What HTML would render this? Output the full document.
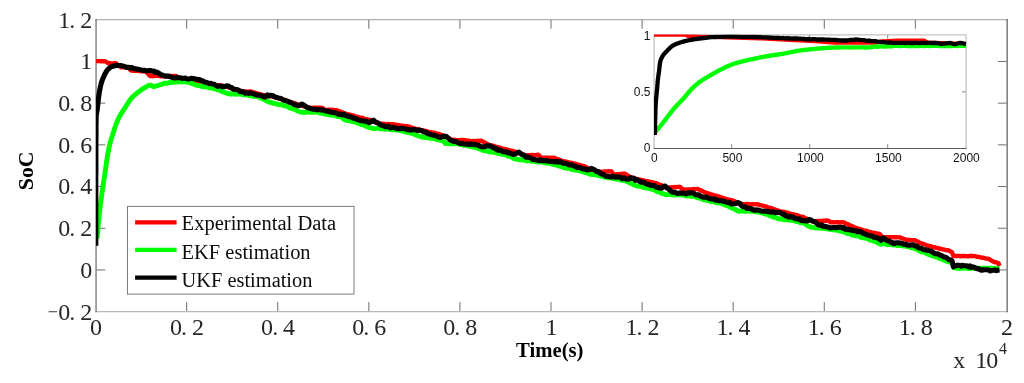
<!DOCTYPE html>
<html lang="en"><head><meta charset="utf-8"><title>SoC estimation</title>
<style>html,body{margin:0;padding:0;background:#fff}svg{display:block}</style></head>
<body>
<svg width="1024" height="383" viewBox="0 0 1024 383">
<rect width="1024" height="383" fill="#fff"/>
<defs><clipPath id="cm"><rect x="96" y="19.6" width="911.0" height="291.9"/></clipPath><clipPath id="ci"><rect x="654" y="34.6" width="312.4" height="113.4"/></clipPath></defs>
<g fill="none">
<path d="M95.5,19.6 H1007.7" stroke="#b0b0b0" stroke-width="1.2"/>
<path d="M95.5,311.65 H1007.7" stroke="#bababa" stroke-width="1.3"/>
<path d="M96.05,19 V312.3" stroke="#5a5a5a" stroke-width="1.1"/>
<path d="M1007.15,19 V312.3" stroke="#5a5a5a" stroke-width="1.2"/>
<path d="M186.65,311 V302.1 M186.65,20 V28.7" stroke="#6c6c6c" stroke-width="1"/>
<path d="M277.74,311 V302.1 M277.74,20 V28.7" stroke="#6c6c6c" stroke-width="1"/>
<path d="M368.83,311 V302.1 M368.83,20 V28.7" stroke="#6c6c6c" stroke-width="1"/>
<path d="M459.92,311 V302.1 M459.92,20 V28.7" stroke="#6c6c6c" stroke-width="1"/>
<path d="M551.01,311 V302.1 M551.01,20 V28.7" stroke="#6c6c6c" stroke-width="1"/>
<path d="M642.10,311 V302.1 M642.10,20 V28.7" stroke="#6c6c6c" stroke-width="1"/>
<path d="M733.19,311 V302.1 M733.19,20 V28.7" stroke="#6c6c6c" stroke-width="1"/>
<path d="M824.28,311 V302.1 M824.28,20 V28.7" stroke="#6c6c6c" stroke-width="1"/>
<path d="M915.37,311 V302.1 M915.37,20 V28.7" stroke="#6c6c6c" stroke-width="1"/>
<path d="M96.5,269.95 H105.3 M1006.6,269.95 H997.8" stroke="#707070" stroke-width="1"/>
<path d="M96.5,228.25 H105.3 M1006.6,228.25 H997.8" stroke="#707070" stroke-width="1"/>
<path d="M96.5,186.55 H105.3 M1006.6,186.55 H997.8" stroke="#707070" stroke-width="1"/>
<path d="M96.5,144.85 H105.3 M1006.6,144.85 H997.8" stroke="#707070" stroke-width="1"/>
<path d="M96.5,103.15 H105.3 M1006.6,103.15 H997.8" stroke="#707070" stroke-width="1"/>
<path d="M96.5,61.45 H105.3 M1006.6,61.45 H997.8" stroke="#707070" stroke-width="1"/>
</g>
<g clip-path="url(#cm)" fill="none" stroke-linejoin="round" stroke-linecap="butt">
<path d="M96.0,61.1 L97.8,61.1 L99.5,61.1 L101.3,61.2 L103.0,61.2 L104.8,61.1 L106.7,62.1 L108.5,63.3 L110.0,63.3 L111.5,63.5 L113.0,63.5 L114.5,63.2 L116.0,63.3 L117.7,64.5 L119.3,65.8 L121.0,67.3 L122.5,67.3 L124.0,67.2 L125.6,67.5 L127.1,67.6 L128.6,67.6 L131.0,70.5 L132.5,70.5 L134.0,70.8 L135.5,70.8 L137.0,70.7 L138.5,71.0 L140.0,71.0 L141.5,71.2 L143.0,71.2 L144.5,71.5 L146.0,71.5 L148.0,73.7 L150.0,76.0 L151.5,75.9 L153.1,76.0 L154.6,76.1 L156.1,75.9 L157.6,75.9 L159.2,76.0 L160.7,76.2 L162.2,76.2 L163.8,76.1 L165.3,76.2 L166.8,76.1 L168.4,76.0 L169.9,75.8 L171.4,76.1 L172.9,76.0 L174.5,75.9 L176.0,76.0 L178.0,77.6 L180.0,79.5 L181.5,79.5 L183.0,79.6 L184.5,79.6 L186.0,79.7 L187.5,79.8 L189.0,80.0 L190.5,80.0 L192.0,80.0 L194.0,81.0 L196.0,82.1 L197.6,81.8 L199.2,81.7 L200.9,81.5 L202.5,81.4 L204.1,81.8 L205.7,82.4 L207.2,82.7 L208.8,83.3 L210.4,83.8 L212.0,84.3 L213.6,84.6 L215.2,84.8 L216.9,85.1 L218.5,85.3 L220.1,85.4 L221.8,85.7 L223.4,85.8 L225.0,86.1 L226.7,86.7 L228.3,87.2 L230.0,87.8 L231.7,88.2 L233.3,88.8 L235.0,89.5 L236.6,90.1 L238.2,90.2 L239.8,90.7 L241.4,91.1 L243.0,91.4 L244.6,91.5 L246.2,91.5 L247.8,91.6 L249.4,91.5 L251.0,91.7 L252.6,92.0 L254.1,92.5 L255.7,92.9 L257.3,93.4 L258.9,93.8 L260.4,94.5 L262.0,94.9 L263.6,95.0 L265.2,95.6 L266.9,95.8 L268.5,96.0 L270.1,96.3 L271.8,96.4 L273.4,96.9 L275.0,97.0 L276.5,97.6 L278.0,98.1 L279.5,98.5 L281.0,99.1 L282.5,99.5 L284.0,100.0 L285.5,100.6 L287.0,101.0 L288.5,101.4 L290.0,101.9 L291.7,102.4 L293.3,102.8 L295.0,103.3 L296.7,104.0 L298.3,104.5 L300.0,104.9 L301.5,105.6 L303.0,106.0 L304.5,106.4 L306.0,106.7 L307.5,107.3 L309.0,107.8 L310.5,108.0 L312.0,107.9 L313.5,107.8 L315.0,107.8 L316.6,107.7 L318.1,107.7 L319.6,107.7 L321.1,108.0 L322.6,107.9 L325.0,109.9 L326.6,110.0 L328.2,109.8 L329.8,110.0 L331.5,109.8 L333.1,109.9 L334.7,110.2 L336.3,110.1 L338.0,110.8 L339.8,111.4 L341.5,112.0 L343.3,112.8 L345.0,113.4 L346.6,114.0 L348.3,114.3 L349.9,114.6 L351.6,115.1 L353.2,115.5 L354.9,116.3 L356.5,116.6 L358.2,117.0 L359.9,117.6 L361.6,117.7 L363.2,118.2 L364.9,118.8 L366.6,119.1 L368.3,119.7 L370.0,120.0 L371.6,120.4 L373.3,121.2 L375.0,121.5 L377.1,122.4 L379.1,123.5 L380.6,123.7 L382.1,123.6 L383.6,123.9 L385.1,124.0 L386.6,124.1 L388.1,124.0 L389.6,124.3 L391.1,124.2 L392.6,124.3 L394.1,124.5 L395.6,124.7 L397.1,125.1 L398.6,125.0 L400.1,125.5 L401.6,125.7 L403.2,125.9 L404.7,125.9 L406.2,126.1 L407.7,126.3 L409.2,126.6 L410.9,127.3 L412.6,127.9 L414.3,128.4 L416.0,128.9 L417.6,129.2 L419.2,129.5 L420.8,130.1 L422.3,130.4 L423.9,130.5 L425.5,131.0 L427.0,131.2 L428.6,131.8 L430.1,132.2 L431.6,132.3 L433.2,132.6 L434.7,133.0 L436.2,133.4 L437.8,133.6 L439.3,134.1 L441.0,134.8 L442.6,135.3 L444.3,136.0 L446.0,136.5 L447.9,137.5 L449.9,138.9 L451.8,139.8 L453.4,140.0 L455.1,139.8 L456.8,140.1 L458.4,140.1 L460.1,140.2 L461.7,139.9 L463.4,140.0 L465.0,140.2 L466.8,140.5 L468.5,140.6 L470.2,141.0 L472.0,141.2 L473.8,140.9 L475.5,141.2 L477.3,140.8 L479.0,140.9 L480.8,140.6 L482.6,141.4 L484.4,142.5 L486.2,143.3 L488.0,144.4 L489.5,145.0 L491.0,145.3 L492.6,145.6 L494.1,146.0 L495.6,146.7 L497.1,147.1 L498.7,147.3 L500.3,147.8 L501.9,148.3 L503.5,148.7 L505.1,149.1 L506.6,149.5 L508.2,149.8 L509.8,150.3 L511.4,150.6 L513.0,151.0 L514.6,151.5 L516.2,152.1 L517.8,152.4 L519.4,152.9 L521.0,153.5 L522.9,154.4 L524.7,155.5 L526.2,155.4 L527.7,155.1 L529.3,155.1 L530.8,155.2 L532.3,155.0 L533.8,155.1 L535.4,155.1 L536.9,154.9 L538.4,154.8 L541.0,157.7 L542.5,157.8 L544.0,157.7 L545.6,157.6 L547.1,157.8 L548.6,157.8 L550.1,157.9 L551.7,157.7 L553.2,157.8 L554.7,157.9 L556.5,158.8 L558.4,159.3 L560.2,160.1 L562.0,160.9 L563.7,161.4 L565.4,161.5 L567.1,161.8 L568.9,162.4 L570.6,162.7 L572.3,163.0 L573.9,163.5 L575.4,163.7 L577.0,164.3 L578.5,164.6 L580.1,165.1 L581.7,165.7 L583.2,165.9 L584.8,166.5 L586.5,167.3 L588.3,168.4 L590.0,169.0 L591.5,170.0 L593.0,170.6 L594.8,170.9 L596.5,171.3 L598.2,171.6 L600.0,171.9 L601.6,171.8 L603.2,171.8 L604.8,171.5 L606.5,171.6 L608.1,171.2 L609.7,171.4 L611.3,171.2 L613.5,174.4 L615.1,174.4 L616.8,174.2 L618.4,174.2 L620.1,174.0 L621.7,174.0 L623.4,173.6 L625.0,173.7 L626.7,174.8 L628.3,176.0 L630.0,176.9 L631.5,177.5 L633.0,177.7 L634.6,178.2 L636.1,178.9 L637.6,179.2 L639.2,179.5 L640.7,179.7 L642.3,180.3 L643.9,180.5 L645.4,181.0 L647.0,181.2 L648.6,181.5 L650.1,181.8 L651.7,182.1 L653.3,182.7 L654.8,182.9 L656.4,183.2 L657.9,184.0 L659.4,184.6 L661.0,185.0 L662.5,185.9 L664.0,186.4 L665.9,187.1 L667.7,187.6 L669.3,187.5 L670.8,187.5 L672.4,187.2 L674.0,187.4 L675.5,187.0 L677.1,187.1 L678.6,186.8 L680.2,186.9 L682.5,189.7 L684.0,189.5 L685.6,189.6 L687.1,189.5 L688.6,189.5 L690.1,189.5 L691.7,189.5 L693.2,189.0 L694.7,189.2 L696.3,189.1 L697.8,189.0 L699.6,189.9 L701.3,190.6 L703.1,191.4 L704.8,192.3 L706.6,193.0 L708.1,193.4 L709.7,193.9 L711.2,194.5 L712.7,194.7 L714.2,195.3 L715.8,195.6 L717.3,196.1 L718.8,196.5 L720.4,197.1 L721.9,197.5 L723.4,198.1 L724.9,198.6 L726.5,199.2 L728.0,199.5 L729.5,199.8 L731.0,200.3 L732.5,200.4 L734.0,200.8 L735.6,201.7 L737.2,202.5 L738.9,203.3 L740.5,204.1 L742.1,204.0 L743.8,204.3 L745.4,204.3 L747.0,204.0 L748.6,204.2 L750.3,204.4 L751.9,204.1 L753.5,204.2 L755.2,204.4 L756.8,204.3 L758.6,204.5 L760.3,205.2 L762.1,205.5 L763.8,206.0 L765.6,206.3 L767.2,206.9 L768.7,207.6 L770.3,207.9 L771.9,208.5 L773.4,208.8 L775.0,209.5 L776.5,210.0 L778.1,210.6 L779.7,211.2 L781.2,211.6 L782.8,211.6 L784.4,212.0 L786.0,212.4 L787.6,212.8 L789.1,213.4 L790.7,213.7 L792.3,214.1 L793.8,214.5 L795.4,214.9 L797.0,215.1 L798.5,215.7 L800.1,216.3 L801.6,216.6 L803.2,216.9 L805.1,217.9 L807.1,218.8 L809.0,219.9 L811.1,220.8 L813.2,221.3 L814.7,221.2 L816.2,221.2 L817.7,221.0 L819.2,221.0 L820.8,220.9 L822.3,220.8 L823.8,220.6 L825.3,220.8 L826.8,220.5 L828.3,220.6 L830.5,222.2 L832.1,222.3 L833.7,222.3 L835.3,222.4 L836.9,222.2 L838.5,222.2 L840.1,222.5 L841.7,222.3 L843.3,222.4 L844.9,222.9 L846.5,223.9 L848.1,224.2 L849.6,225.3 L851.2,225.7 L852.8,226.4 L854.4,227.3 L856.0,227.8 L857.6,228.2 L859.1,228.8 L860.7,229.2 L862.2,229.9 L863.8,230.3 L865.4,230.6 L866.9,231.0 L868.5,231.6 L870.1,231.9 L871.7,232.3 L873.3,232.6 L875.0,233.0 L876.6,233.3 L878.2,233.7 L879.8,234.1 L882.3,237.2 L883.9,237.2 L885.5,237.3 L887.1,237.3 L888.7,237.3 L890.3,237.2 L891.9,237.2 L893.5,237.3 L895.1,237.1 L896.7,237.3 L898.3,237.4 L899.9,237.2 L901.5,238.0 L903.0,238.5 L904.5,239.0 L906.1,239.7 L907.9,239.9 L909.6,240.0 L911.4,240.1 L913.1,240.1 L914.9,240.3 L916.6,241.1 L918.3,241.8 L920.0,242.8 L921.6,243.3 L923.1,243.8 L924.7,244.5 L926.3,245.2 L927.8,245.4 L929.4,246.1 L931.0,246.3 L932.5,247.0 L934.1,247.2 L935.7,247.7 L937.2,247.9 L938.8,248.5 L940.4,248.7 L941.9,249.2 L943.5,249.4 L945.1,249.8 L946.6,250.2 L948.2,250.3 L950.1,251.2 L952.0,252.2 L953.4,256.0 L954.9,256.0 L956.4,256.0 L957.9,256.0 L959.4,256.0 L960.9,256.2 L962.4,256.0 L964.0,255.9 L965.5,256.1 L967.0,256.2 L968.5,256.2 L970.0,256.0 L971.5,255.8 L973.0,256.1 L974.5,256.0 L976.0,256.5 L977.5,256.8 L979.0,257.0 L980.5,257.3 L982.0,257.7 L983.6,257.8 L985.1,258.4 L986.6,258.6 L988.1,258.8 L989.6,259.3 L991.5,260.6 L993.3,261.6 L995.0,262.1 L996.8,262.6 L998.5,263.3 L999.5,266.0" stroke="#ff0000" stroke-width="4.3999999999999995"/>
<path d="M97.1,238.5 L97.2,237.5 L97.3,236.5 L97.3,235.5 L97.4,234.5 L97.5,233.5 L97.6,232.5 L97.7,231.5 L97.8,230.5 L97.9,229.5 L98.0,228.5 L98.1,227.5 L98.1,226.5 L98.2,225.5 L98.3,224.5 L98.4,223.5 L98.5,222.6 L98.6,221.6 L98.7,220.6 L98.8,219.6 L98.9,218.6 L99.0,217.6 L99.1,216.6 L99.2,215.6 L99.3,214.6 L99.4,213.6 L99.5,212.6 L99.7,211.6 L99.8,210.6 L99.9,209.6 L100.0,208.6 L100.1,207.6 L100.2,206.6 L100.3,205.6 L100.4,204.6 L100.5,203.6 L100.6,202.7 L100.8,201.7 L100.9,200.7 L101.0,199.7 L101.2,198.7 L101.3,197.7 L101.5,196.7 L101.6,195.7 L101.8,194.7 L101.9,193.7 L102.0,192.7 L102.2,191.8 L102.3,190.8 L102.5,189.8 L102.6,188.8 L102.8,187.8 L102.9,186.8 L103.0,185.8 L103.2,184.8 L103.3,183.8 L103.5,182.8 L103.6,181.9 L103.8,180.9 L103.9,179.9 L104.1,178.9 L104.2,177.9 L104.4,176.9 L104.5,175.9 L104.7,174.9 L104.8,173.9 L105.0,172.9 L105.1,172.0 L105.3,171.0 L105.4,170.0 L105.6,169.0 L105.7,168.0 L105.9,167.0 L106.0,166.0 L106.2,165.0 L106.3,164.0 L106.4,163.0 L106.6,162.1 L106.7,161.1 L106.9,160.1 L107.0,159.1 L107.2,158.1 L107.3,157.1 L107.5,156.1 L107.7,155.1 L107.8,154.2 L108.0,153.2 L108.2,152.2 L108.4,151.2 L108.5,150.2 L108.7,149.2 L108.9,148.2 L109.1,147.3 L109.3,146.3 L109.6,145.3 L109.8,144.3 L110.0,143.4 L110.3,142.4 L110.5,141.4 L110.8,140.5 L111.1,139.5 L111.4,138.6 L111.7,137.6 L112.0,136.6 L112.3,135.7 L112.6,134.7 L112.9,133.8 L113.2,132.8 L113.5,131.9 L113.8,130.9 L114.1,130.0 L114.4,129.0 L114.7,128.1 L115.1,127.1 L115.4,126.2 L115.7,125.2 L116.1,124.3 L116.4,123.4 L116.8,122.4 L117.2,121.5 L117.6,120.6 L118.0,119.6 L118.4,118.7 L118.8,117.8 L119.2,116.9 L119.7,116.0 L120.2,115.2 L120.7,114.3 L121.2,113.5 L121.8,112.6 L122.3,111.8 L122.9,111.0 L123.4,110.1 L124.0,109.3 L124.5,108.4 L125.1,107.6 L125.6,106.8 L126.1,105.9 L126.7,105.1 L127.2,104.2 L127.8,103.4 L128.3,102.6 L128.9,101.7 L129.4,100.9 L130.0,100.1 L130.6,99.3 L131.2,98.5 L131.9,97.7 L132.6,97.0 L133.3,96.3 L134.0,95.6 L134.8,95.0 L135.5,94.3 L136.3,93.7 L137.1,93.0 L137.9,92.4 L138.7,91.8 L139.5,91.2 L140.3,90.6 L141.1,90.0 L141.9,89.4 L142.7,88.9 L143.5,88.3 L144.4,87.8 L145.2,87.3 L146.1,86.8 L147.0,86.3 L148.9,85.4 L150.9,85.1 L152.5,86.2 L154.1,86.7 L155.7,85.9 L157.2,85.9 L158.8,85.1 L160.8,84.7 L162.7,83.9 L164.3,83.3 L165.8,83.2 L167.4,83.2 L168.9,82.7 L170.5,82.4 L172.1,82.6 L173.7,82.0 L175.2,82.1 L176.8,81.6 L178.4,82.0 L180.0,81.6 L181.8,81.8 L183.7,81.5 L185.3,81.9 L186.8,82.0 L188.4,82.3 L190.0,82.7 L191.6,83.4 L193.2,83.7 L194.7,84.6 L196.3,85.2 L197.9,85.3 L199.4,85.7 L201.0,86.0 L202.6,86.7 L204.1,86.5 L205.7,86.9 L207.2,87.1 L208.8,87.7 L210.6,87.6 L212.4,88.2 L214.2,88.8 L216.0,88.8 L217.6,89.8 L219.1,90.1 L220.7,90.6 L222.2,91.6 L223.8,92.0 L225.4,92.7 L226.9,93.4 L228.5,93.9 L230.1,93.6 L231.6,94.2 L233.2,93.7 L234.8,94.0 L236.3,94.4 L237.9,94.1 L239.4,93.9 L241.0,94.1 L242.6,94.5 L244.2,94.9 L245.8,95.0 L247.4,94.8 L249.0,95.7 L250.6,95.3 L252.2,96.1 L253.8,96.5 L255.4,96.2 L257.0,96.8 L258.6,97.0 L260.3,98.0 L262.0,98.4 L263.6,99.3 L265.3,100.1 L267.0,101.0 L268.7,102.1 L270.3,102.2 L272.0,102.7 L273.6,103.4 L275.2,103.7 L276.9,104.2 L278.5,104.4 L280.1,104.9 L281.7,104.8 L283.4,105.5 L285.0,105.8 L286.6,106.0 L288.2,107.1 L289.9,108.0 L291.5,108.3 L293.1,108.8 L294.7,109.4 L296.3,110.1 L298.0,111.2 L299.6,111.8 L301.2,112.1 L302.7,112.3 L304.2,112.5 L305.7,112.3 L307.2,111.9 L308.8,112.0 L310.3,112.2 L311.8,112.2 L313.3,112.2 L314.8,112.0 L316.3,112.0 L317.9,112.0 L319.4,113.0 L321.0,112.7 L322.6,113.6 L324.1,113.3 L325.7,114.3 L327.2,114.1 L328.8,114.5 L330.4,115.1 L331.9,114.8 L333.5,115.4 L335.1,115.6 L336.7,116.3 L338.2,116.6 L339.8,116.7 L341.4,117.1 L344.0,119.4 L345.6,120.0 L347.1,120.6 L348.7,120.2 L350.2,121.0 L351.8,121.5 L353.4,121.8 L354.9,121.9 L356.5,122.5 L358.0,123.4 L359.5,123.4 L361.0,124.5 L362.5,124.8 L364.1,125.1 L365.6,126.2 L367.1,126.2 L368.6,127.3 L370.1,127.7 L371.6,128.2 L373.3,128.6 L374.9,128.6 L376.6,128.4 L378.3,128.3 L379.9,128.5 L381.6,128.8 L383.1,128.5 L384.6,129.2 L386.1,128.8 L387.6,129.0 L389.1,129.2 L390.7,129.4 L392.2,129.8 L393.7,129.7 L395.2,129.9 L396.7,130.0 L398.3,130.0 L399.8,130.5 L401.4,130.7 L402.9,131.4 L404.5,131.2 L406.1,132.0 L407.6,132.3 L409.2,132.5 L410.9,133.2 L412.5,133.4 L414.2,134.3 L415.9,134.9 L417.5,135.6 L419.2,136.4 L420.8,136.4 L422.4,137.2 L423.9,137.3 L425.5,137.6 L427.1,137.7 L428.6,137.6 L430.2,138.3 L431.8,138.2 L433.4,138.5 L435.0,138.7 L436.6,139.5 L438.2,139.4 L439.8,140.2 L441.4,140.5 L443.0,140.7 L445.5,143.6 L447.1,143.5 L448.7,143.6 L450.3,143.9 L452.0,143.8 L453.6,143.8 L455.2,143.5 L456.8,143.8 L458.3,143.9 L459.8,144.5 L461.4,144.6 L462.9,145.1 L464.4,145.4 L465.9,145.4 L467.4,145.5 L469.0,146.3 L470.5,146.3 L472.0,146.7 L473.5,147.2 L475.0,147.3 L476.5,147.8 L478.0,148.4 L479.5,149.1 L481.0,149.1 L482.5,150.1 L484.0,150.6 L485.5,150.9 L487.0,151.2 L488.6,151.7 L490.3,151.6 L491.9,151.8 L493.5,152.3 L495.1,152.5 L496.8,153.0 L498.4,153.6 L500.0,153.5 L501.7,154.3 L503.3,154.3 L504.8,154.8 L506.4,155.1 L507.9,156.1 L509.4,156.5 L511.0,156.9 L512.5,157.6 L514.0,158.6 L515.6,158.9 L517.1,159.3 L518.7,159.4 L520.3,160.1 L521.9,159.7 L523.6,160.1 L525.2,160.3 L526.8,161.1 L528.4,160.9 L529.9,160.6 L531.5,161.3 L533.0,161.3 L534.5,161.2 L536.1,161.7 L537.6,161.9 L539.1,162.0 L540.7,161.6 L542.2,162.1 L543.8,162.7 L545.4,162.6 L547.0,163.3 L548.7,163.4 L550.3,163.3 L551.9,164.2 L553.5,164.3 L555.1,164.8 L556.6,165.2 L558.2,165.8 L559.8,166.2 L561.3,166.3 L562.9,167.5 L564.4,167.5 L566.0,168.1 L567.6,168.2 L569.1,168.3 L570.7,169.2 L572.3,169.6 L573.9,169.6 L575.5,170.2 L577.0,170.1 L578.6,170.5 L580.2,170.9 L581.7,171.3 L583.3,171.8 L584.9,172.5 L586.4,172.8 L588.0,173.1 L589.5,174.1 L591.1,174.4 L592.9,174.5 L594.7,174.9 L596.4,175.0 L598.2,175.2 L600.0,175.9 L601.6,176.3 L603.1,176.5 L604.7,177.2 L606.2,176.8 L607.8,177.8 L609.4,177.5 L610.9,177.9 L612.5,178.5 L614.1,178.3 L615.6,179.0 L617.2,179.1 L618.8,179.3 L620.4,180.1 L622.0,180.0 L623.5,180.5 L625.1,180.4 L626.8,181.6 L628.4,182.0 L630.1,183.1 L631.8,183.6 L633.4,184.5 L635.1,185.5 L636.6,185.9 L638.1,186.2 L639.6,186.1 L641.1,186.4 L642.6,187.2 L644.1,187.5 L645.6,187.7 L647.1,187.7 L648.6,188.4 L650.1,188.5 L651.6,189.2 L653.1,189.4 L654.6,190.1 L656.1,191.0 L657.7,191.9 L659.2,192.2 L660.7,192.6 L662.2,193.6 L663.7,193.8 L665.2,194.6 L666.7,194.7 L668.2,194.6 L669.7,194.3 L671.2,194.7 L672.7,194.7 L674.2,195.0 L675.7,194.9 L677.2,194.6 L678.7,194.9 L680.2,194.8 L681.7,194.8 L683.2,195.3 L684.7,195.5 L686.2,195.7 L687.8,195.5 L689.3,196.1 L690.8,196.2 L692.3,196.5 L693.8,196.1 L695.3,196.7 L696.9,197.4 L698.5,198.1 L700.1,198.4 L701.8,198.5 L703.4,199.7 L705.0,199.9 L706.6,200.4 L708.2,200.5 L709.7,201.1 L711.3,201.6 L712.9,201.3 L714.4,202.0 L716.0,202.4 L717.5,202.9 L719.1,202.9 L720.9,203.1 L722.7,204.1 L724.4,204.9 L726.2,205.4 L728.0,205.9 L729.7,207.0 L731.3,207.7 L733.0,208.6 L734.7,209.4 L736.3,209.9 L738.0,211.0 L739.5,211.3 L741.0,211.0 L742.5,210.6 L744.0,211.3 L745.5,211.2 L747.1,211.2 L748.6,210.7 L750.1,211.2 L751.6,211.0 L753.1,211.1 L754.7,211.7 L756.2,211.5 L757.8,212.1 L759.4,212.2 L760.9,212.5 L762.5,213.1 L764.0,213.8 L765.6,214.0 L767.2,214.5 L768.7,215.0 L770.3,216.0 L771.9,216.4 L773.4,217.2 L775.0,217.2 L776.5,217.7 L778.1,218.5 L779.7,219.1 L781.2,218.6 L782.8,219.4 L784.4,219.8 L786.0,219.8 L787.6,219.9 L789.1,220.0 L790.7,220.3 L792.3,220.4 L793.8,220.6 L795.4,221.1 L797.0,221.6 L798.5,221.7 L800.1,222.6 L801.6,222.9 L803.2,222.8 L804.7,223.5 L806.2,224.6 L807.7,225.7 L809.2,226.4 L810.7,227.2 L812.3,227.2 L813.9,227.8 L815.4,227.7 L817.0,227.9 L818.6,228.2 L820.1,227.9 L821.7,228.4 L823.3,228.4 L824.8,228.4 L826.3,228.9 L827.8,228.8 L829.3,229.4 L830.8,229.2 L832.3,229.9 L833.8,229.5 L835.3,230.1 L836.8,230.4 L838.3,230.3 L839.9,231.1 L841.5,231.3 L843.1,231.9 L844.7,232.2 L846.3,233.1 L848.0,233.6 L849.6,233.9 L851.2,234.4 L852.8,235.2 L854.4,235.4 L856.0,235.9 L857.6,236.0 L859.1,236.4 L860.7,237.3 L862.2,237.5 L863.8,237.9 L865.4,238.2 L866.9,238.3 L868.5,239.1 L870.1,240.0 L871.6,240.3 L873.2,240.9 L874.8,241.6 L876.4,241.9 L878.0,243.2 L879.5,243.8 L881.1,244.1 L882.8,243.8 L884.4,243.9 L886.1,244.2 L887.8,244.8 L889.4,244.4 L891.1,244.5 L892.6,245.0 L894.1,244.7 L895.6,245.0 L897.1,245.5 L898.6,245.5 L900.1,245.4 L901.6,245.7 L903.1,246.0 L904.6,246.0 L906.1,246.3 L907.8,246.5 L909.5,247.0 L911.2,247.9 L912.8,247.9 L914.5,248.4 L916.2,249.1 L917.9,249.7 L919.5,251.0 L921.2,251.7 L922.9,252.0 L924.5,252.5 L926.2,253.5 L927.8,254.0 L929.4,254.9 L931.0,255.2 L932.7,256.0 L934.3,256.5 L935.9,257.0 L937.5,257.3 L939.3,258.3 L941.0,258.8 L942.8,259.3 L944.5,260.5 L946.3,261.0 L948.2,261.9 L950.1,262.2 L952.0,262.6 L954.0,267.8 L955.5,267.6 L957.0,268.2 L958.5,268.2 L960.0,268.3 L961.5,268.1 L963.0,268.4 L964.5,267.8 L966.0,268.1 L967.5,268.5 L969.0,268.6 L970.5,268.4 L972.0,268.3 L973.5,268.4 L975.0,268.3 L976.5,268.2 L978.1,268.1 L979.6,268.7 L981.1,268.4 L982.7,268.2 L984.2,268.2 L985.7,268.1 L987.2,268.1 L988.8,268.5 L990.3,268.3 L991.8,268.3 L993.4,268.7 L994.9,268.1 L996.4,268.8 L998.0,268.4 L999.5,268.5" stroke="#00ff00" stroke-width="4.8999999999999995"/>
<path d="M95.8,245.8 L95.8,244.8 L95.8,243.8 L95.8,242.8 L95.8,241.8 L95.8,240.8 L95.8,239.8 L95.8,238.8 L95.8,237.8 L95.8,236.8 L95.8,235.8 L95.8,234.8 L95.8,233.8 L95.8,232.8 L95.8,231.8 L95.8,230.8 L95.8,229.8 L95.8,228.8 L95.8,227.8 L95.8,226.8 L95.8,225.8 L95.8,224.7 L95.8,223.7 L95.8,222.7 L95.8,221.7 L95.8,220.7 L95.8,219.7 L95.8,218.7 L95.8,217.7 L95.8,216.7 L95.8,215.7 L95.8,214.7 L95.8,213.7 L95.8,212.7 L95.8,211.7 L95.8,210.7 L95.8,209.7 L95.8,208.7 L95.8,207.7 L95.8,206.7 L95.8,205.7 L95.8,204.7 L95.8,203.7 L95.8,202.7 L95.8,201.7 L95.8,200.7 L95.8,199.7 L95.8,198.7 L95.8,197.7 L95.8,196.7 L95.8,195.7 L95.8,194.7 L95.8,193.7 L95.8,192.7 L95.8,191.7 L95.8,190.7 L95.8,189.7 L95.8,188.7 L95.8,187.7 L95.8,186.7 L95.8,185.7 L95.8,184.7 L95.8,183.7 L95.8,182.6 L95.8,181.6 L95.8,180.6 L95.8,179.6 L95.8,178.6 L95.8,177.6 L95.8,176.6 L95.8,175.6 L95.9,174.6 L95.9,173.6 L95.9,172.6 L95.9,171.6 L95.9,170.6 L95.9,169.6 L95.9,168.6 L95.9,167.6 L95.9,166.6 L95.9,165.6 L95.9,164.6 L95.9,163.6 L95.9,162.6 L95.9,161.6 L95.9,160.6 L95.9,159.6 L95.9,158.6 L95.9,157.6 L95.9,156.6 L95.9,155.6 L95.9,154.6 L95.9,153.6 L95.9,152.6 L95.9,151.6 L95.9,150.6 L95.9,149.6 L95.9,148.6 L95.9,147.6 L95.9,146.6 L95.9,145.6 L95.9,144.6 L95.9,143.6 L95.9,142.6 L95.9,141.6 L96.0,140.5 L96.0,139.5 L96.0,138.5 L96.0,137.5 L96.0,136.5 L96.0,135.5 L96.0,134.5 L96.0,133.5 L96.0,132.5 L96.0,131.5 L96.0,130.5 L96.0,129.5 L96.0,128.5 L96.0,127.5 L96.0,126.5 L96.0,125.5 L96.0,124.5 L96.1,123.5 L96.1,122.5 L96.1,121.5 L96.1,120.5 L96.1,119.5 L96.1,118.5 L96.2,117.5 L96.2,116.5 L96.2,115.5 L96.4,114.5 L96.5,113.5 L96.7,112.5 L96.9,111.5 L97.1,110.5 L97.2,109.6 L97.3,108.6 L97.4,107.6 L97.5,106.6 L97.7,105.6 L97.8,104.6 L97.9,103.6 L98.0,102.6 L98.1,101.6 L98.2,100.6 L98.4,99.6 L98.5,98.6 L98.6,97.6 L98.7,96.6 L98.9,95.6 L99.0,94.6 L99.1,93.6 L99.3,92.6 L99.4,91.6 L99.6,90.7 L99.8,89.7 L100.0,88.7 L100.2,87.7 L100.4,86.7 L100.6,85.7 L100.9,84.8 L101.1,83.8 L101.4,82.8 L101.7,81.9 L102.0,80.9 L102.3,80.0 L102.7,79.0 L103.1,78.1 L103.5,77.2 L103.9,76.3 L104.3,75.4 L104.7,74.5 L105.2,73.6 L105.7,72.7 L106.2,71.8 L106.7,70.9 L107.3,70.2 L108.0,69.4 L108.7,68.7 L109.5,68.0 L110.3,67.4 L111.1,66.9 L112.0,66.6 L113.0,66.3 L114.0,66.0 L115.0,65.8 L116.0,65.6 L117.0,65.5 L118.0,65.5 L119.0,65.5 L120.0,65.5 L121.0,65.5 L122.5,65.9 L124.0,66.2 L125.6,67.0 L127.1,67.4 L128.6,67.3 L130.4,68.0 L132.1,67.5 L133.9,68.7 L135.6,68.8 L137.4,69.3 L139.1,69.3 L140.9,69.9 L142.6,70.4 L144.4,70.3 L146.1,70.8 L147.6,70.7 L149.1,70.5 L150.7,70.5 L152.2,71.2 L153.7,71.0 L155.4,72.5 L157.0,72.0 L158.7,73.3 L160.4,74.3 L162.0,75.0 L163.7,75.6 L165.2,76.2 L166.7,75.9 L168.2,76.2 L169.7,76.5 L171.2,77.1 L172.8,77.7 L174.3,77.9 L175.9,78.0 L177.4,77.4 L179.0,77.7 L180.6,77.7 L182.1,78.4 L183.7,78.3 L185.3,78.0 L186.8,78.8 L188.4,79.0 L190.0,78.7 L191.6,78.3 L193.2,78.5 L194.7,79.0 L196.3,79.0 L197.9,79.7 L199.4,79.5 L201.0,80.5 L202.6,80.8 L204.3,81.9 L205.9,82.2 L207.6,82.9 L209.3,83.6 L210.9,83.2 L212.6,84.0 L214.3,84.3 L216.0,85.5 L217.6,86.4 L219.2,86.0 L220.7,85.9 L222.3,86.8 L223.9,86.8 L225.4,86.4 L226.9,85.8 L228.5,86.0 L230.1,87.4 L231.7,87.6 L233.2,89.2 L234.8,89.3 L236.6,89.6 L238.3,89.9 L240.1,91.7 L241.8,91.4 L243.6,92.3 L245.3,93.2 L246.9,92.8 L248.6,93.4 L250.3,92.8 L251.9,93.3 L253.6,93.9 L255.1,94.4 L256.6,95.1 L258.1,95.1 L259.6,95.5 L261.1,95.2 L263.0,96.5 L264.9,97.1 L267.4,94.8 L268.9,95.9 L270.4,95.2 L271.9,95.5 L273.4,96.0 L274.9,96.8 L276.7,97.6 L278.4,98.0 L280.2,98.2 L281.9,99.0 L283.7,100.2 L285.2,100.4 L286.7,101.0 L288.2,101.4 L289.7,102.3 L291.2,102.7 L292.8,103.6 L294.4,104.6 L295.9,104.7 L297.5,105.6 L299.7,105.4 L301.9,104.0 L303.8,105.1 L305.6,106.4 L307.5,107.7 L309.3,108.0 L311.0,108.8 L312.8,109.2 L314.5,109.1 L316.3,109.6 L318.0,109.6 L319.6,109.5 L321.3,110.0 L323.0,110.0 L324.6,110.6 L326.3,111.1 L328.1,111.0 L329.8,111.9 L331.6,112.4 L333.3,112.4 L335.1,112.7 L337.0,113.5 L338.9,114.4 L340.6,114.1 L342.3,114.9 L344.0,114.2 L345.7,115.6 L347.3,115.7 L349.0,116.7 L350.7,116.7 L352.3,117.7 L354.0,118.2 L355.8,118.5 L357.5,119.8 L359.3,119.9 L361.0,120.8 L362.8,120.7 L364.4,121.3 L366.0,121.1 L367.5,121.9 L369.1,122.6 L371.3,121.5 L373.5,120.1 L375.2,121.9 L376.9,122.7 L378.7,123.4 L380.4,124.8 L382.0,125.4 L383.6,125.8 L385.2,126.7 L386.8,126.6 L388.4,126.1 L390.0,127.9 L391.6,127.6 L393.2,127.3 L394.8,127.7 L396.3,128.7 L397.9,128.4 L399.5,128.6 L401.1,128.4 L402.6,128.5 L404.2,128.8 L405.8,128.8 L407.3,129.8 L408.8,129.6 L410.4,130.1 L412.2,129.6 L413.9,129.7 L415.7,129.6 L417.4,130.7 L419.2,130.1 L420.9,130.4 L422.5,131.0 L424.2,132.2 L425.9,132.3 L427.5,133.6 L429.2,133.8 L430.8,134.6 L432.4,135.0 L434.0,135.3 L435.7,135.7 L437.3,136.3 L438.9,137.2 L440.5,137.4 L442.4,136.4 L444.3,136.4 L446.2,136.4 L448.1,138.1 L449.9,139.6 L451.8,140.7 L453.6,141.4 L455.3,141.5 L457.1,142.1 L458.8,143.1 L460.6,143.6 L462.2,143.3 L463.9,144.0 L465.5,144.1 L467.1,144.1 L468.7,144.0 L470.4,144.4 L472.0,143.9 L473.7,144.5 L475.3,144.6 L477.0,145.0 L478.7,145.3 L480.3,146.5 L482.0,146.8 L483.5,146.9 L485.0,146.5 L486.6,145.6 L488.1,146.1 L489.6,145.6 L491.1,146.8 L492.6,147.1 L494.1,148.2 L495.6,148.4 L497.1,149.9 L498.7,150.4 L500.2,150.0 L501.8,150.8 L503.4,151.8 L504.9,151.9 L506.5,151.9 L508.0,153.0 L509.6,152.8 L511.3,153.5 L512.9,154.4 L514.6,154.3 L516.8,153.2 L519.0,152.1 L520.7,153.6 L522.5,154.8 L524.2,155.2 L525.9,157.1 L527.5,157.0 L529.1,157.4 L530.7,157.9 L532.4,159.4 L534.0,159.4 L535.6,159.9 L537.2,160.0 L538.9,160.7 L540.5,159.8 L542.2,160.8 L543.9,160.6 L545.5,160.5 L547.2,160.8 L548.8,161.3 L550.4,161.5 L551.9,161.3 L553.5,161.6 L555.1,161.9 L556.6,161.4 L558.2,162.1 L559.8,161.8 L561.3,162.1 L562.8,163.1 L564.3,163.2 L565.8,163.5 L567.3,163.7 L568.9,164.9 L570.5,164.8 L572.1,164.9 L573.8,165.9 L575.4,166.2 L577.0,167.6 L578.6,167.5 L580.3,167.5 L582.1,168.7 L583.8,169.1 L585.6,169.0 L587.3,170.0 L589.5,169.5 L591.7,168.4 L593.4,169.4 L595.0,170.1 L596.7,171.8 L598.3,171.5 L600.0,173.0 L601.6,174.0 L603.1,174.4 L604.7,175.5 L606.3,176.3 L607.9,176.2 L609.4,176.8 L611.0,177.1 L612.5,176.1 L614.1,176.8 L615.7,177.2 L617.2,176.7 L618.8,177.1 L620.6,177.3 L622.3,178.6 L624.1,177.8 L625.8,178.9 L627.6,179.2 L629.2,178.7 L630.7,177.6 L632.3,178.5 L633.8,178.4 L635.4,180.3 L637.0,179.7 L638.5,180.4 L640.1,181.7 L641.7,182.3 L643.2,182.1 L644.8,182.9 L646.4,184.0 L648.0,184.2 L649.6,184.7 L651.1,185.6 L652.7,185.5 L654.4,185.5 L656.2,187.3 L657.9,187.4 L659.7,188.0 L661.4,188.3 L663.3,186.5 L665.2,186.1 L666.8,188.0 L668.4,188.8 L669.9,190.2 L671.5,191.7 L673.2,192.2 L674.8,192.1 L676.5,193.2 L678.2,193.4 L679.8,192.9 L681.5,193.4 L683.1,193.0 L684.7,193.2 L686.3,193.9 L688.0,192.9 L689.6,193.1 L691.2,192.6 L692.8,193.0 L694.3,193.6 L695.8,194.9 L697.3,194.7 L698.8,194.8 L700.3,196.1 L701.9,196.7 L703.4,197.3 L705.0,197.0 L706.5,197.1 L708.1,197.8 L709.7,198.8 L711.2,198.8 L712.8,199.2 L714.3,198.9 L715.8,200.2 L717.4,199.9 L718.9,200.6 L720.4,200.8 L721.9,200.8 L723.4,201.4 L725.0,201.6 L726.5,202.3 L728.0,202.6 L729.6,202.4 L731.1,203.9 L732.7,204.0 L734.3,203.8 L736.1,203.5 L738.0,202.6 L739.8,203.4 L741.5,205.6 L743.3,206.7 L745.0,206.7 L746.8,208.4 L748.4,208.3 L749.9,208.4 L751.5,208.8 L753.0,209.8 L754.6,210.3 L756.2,209.9 L757.7,210.0 L759.3,210.3 L760.9,210.9 L762.4,211.3 L764.0,211.0 L765.6,211.2 L767.2,211.4 L768.8,211.6 L770.3,211.9 L771.9,212.2 L773.4,211.7 L774.9,212.8 L776.4,212.2 L777.9,212.5 L779.4,212.2 L780.9,212.9 L782.4,214.1 L783.9,214.1 L785.4,215.7 L786.9,216.0 L788.5,217.1 L790.1,216.4 L791.7,217.2 L793.4,217.1 L795.0,218.6 L796.6,218.7 L798.2,219.1 L799.7,218.8 L801.2,220.4 L802.7,220.8 L804.2,220.3 L805.7,221.0 L807.4,220.9 L809.0,219.5 L810.7,219.7 L812.2,220.9 L813.7,221.4 L815.3,222.0 L816.8,223.4 L818.3,224.7 L820.0,225.2 L821.6,224.9 L823.3,226.5 L825.0,226.3 L826.6,226.8 L828.3,227.2 L829.9,227.9 L831.4,227.8 L833.0,227.5 L834.5,227.5 L836.1,227.7 L837.7,227.4 L839.2,227.3 L840.8,227.2 L842.3,228.2 L843.8,227.7 L845.3,229.4 L846.8,228.9 L848.3,229.8 L849.8,229.6 L851.4,230.3 L852.9,230.4 L854.5,230.6 L856.0,230.7 L857.6,231.8 L859.1,231.2 L860.7,231.9 L862.2,232.6 L863.8,233.6 L865.4,234.0 L866.9,234.9 L868.5,235.3 L870.2,235.7 L871.9,235.7 L873.5,237.3 L875.2,237.4 L876.9,237.7 L878.6,238.4 L881.1,240.3 L883.0,237.8 L884.6,238.5 L886.2,240.2 L887.9,240.9 L889.5,241.1 L891.1,242.6 L892.7,242.6 L894.2,243.7 L895.8,242.8 L897.4,242.8 L898.9,242.9 L900.5,243.1 L902.0,243.3 L903.6,244.1 L905.4,244.2 L907.1,244.9 L908.9,245.1 L910.6,245.1 L912.4,244.7 L913.9,245.2 L915.4,246.3 L916.9,246.1 L918.4,247.7 L919.9,248.0 L921.5,248.3 L923.1,249.5 L924.7,249.9 L926.6,249.9 L928.4,250.5 L930.3,250.8 L932.2,251.9 L934.1,253.2 L935.6,253.8 L937.1,253.9 L938.6,254.1 L940.1,255.1 L941.6,255.5 L943.5,256.8 L945.4,257.2 L947.3,258.3 L948.9,259.7 L950.4,259.8 L952.0,260.7 L953.4,266.8 L955.5,265.8 L957.6,265.2 L959.2,265.2 L960.7,266.1 L962.3,265.3 L963.9,265.8 L965.4,265.8 L967.0,265.9 L968.5,266.9 L970.0,265.8 L971.5,267.4 L973.0,266.8 L974.5,267.3 L976.4,268.6 L978.3,268.6 L980.2,269.9 L981.8,270.3 L983.4,269.8 L985.0,269.7 L986.7,269.8 L988.3,269.9 L989.9,271.0 L991.5,270.5 L993.1,270.3 L994.7,270.0 L996.3,270.6 L997.9,270.2 L999.5,270.0" stroke="#000" stroke-width="5.1"/>
</g>
<g font-family="'Liberation Serif', serif" fill="#262626">
<text x="53.0" y="317.6" font-size="18.2" text-anchor="middle">−</text><text x="64.3 72.3 86.3" y="319.5" font-size="24.0" text-anchor="middle">0.2</text>
<text x="86.3" y="277.8" font-size="24.0" text-anchor="middle">0</text>
<text x="64.3 72.3 86.3" y="236.2" font-size="24.0" text-anchor="middle">0.2</text>
<text x="64.3 72.3 86.3" y="194.4" font-size="24.0" text-anchor="middle">0.4</text>
<text x="64.3 72.3 86.3" y="152.7" font-size="24.0" text-anchor="middle">0.6</text>
<text x="64.3 72.3 86.3" y="111.0" font-size="24.0" text-anchor="middle">0.8</text>
<text x="86.3" y="69.3" font-size="24.0" text-anchor="middle">1</text>
<text x="64.3 72.3 86.3" y="27.6" font-size="24.0" text-anchor="middle">1.2</text>
<text x="96.0" y="334.5" font-size="24.0" text-anchor="middle">0</text>
<text x="176.1 184.1 198.1" y="334.5" font-size="24.0" text-anchor="middle">0.2</text>
<text x="267.1 275.2 289.1" y="334.5" font-size="24.0" text-anchor="middle">0.4</text>
<text x="358.2 366.3 380.2" y="334.5" font-size="24.0" text-anchor="middle">0.6</text>
<text x="449.3 457.3 471.3" y="334.5" font-size="24.0" text-anchor="middle">0.8</text>
<text x="551.4" y="334.5" font-size="24.0" text-anchor="middle">1</text>
<text x="631.5 639.5 653.5" y="334.5" font-size="24.0" text-anchor="middle">1.2</text>
<text x="722.6 730.6 744.6" y="334.5" font-size="24.0" text-anchor="middle">1.4</text>
<text x="813.7 821.7 835.7" y="334.5" font-size="24.0" text-anchor="middle">1.6</text>
<text x="904.8 912.8 926.8" y="334.5" font-size="24.0" text-anchor="middle">1.8</text>
<text x="1006.9" y="334.5" font-size="24.0" text-anchor="middle">2</text>
<text x="959.3 981.3 992.3" y="367.9" font-size="24.0" text-anchor="middle">x10</text>
<text x="1003.0" y="354.3" font-size="16" text-anchor="middle">4</text>
</g>
<g font-family="'Liberation Serif', serif" font-weight="bold" fill="#000" font-size="20.7">
<text x="549.8" y="357" text-anchor="middle">Time(s)</text>
<text transform="translate(33,170.8) rotate(-90)" text-anchor="middle" font-size="21.8">SoC</text>
</g>
<rect x="127.5" y="206.4" width="226.5" height="87.7" fill="#fff" stroke="#7c7c7c" stroke-width="1"/>
<path d="M135.1,222.4 H176.6" stroke="#ff0000" stroke-width="4.3"/>
<text x="181.6" y="230.0" font-family="'Liberation Serif', serif" font-size="21.3" fill="#0c0c0c" textLength="154.6" lengthAdjust="spacingAndGlyphs">Experimental Data</text>
<path d="M135.1,249.9 H176.6" stroke="#00ff00" stroke-width="4.3"/>
<text x="181.6" y="258.5" font-family="'Liberation Serif', serif" font-size="21.3" fill="#0c0c0c" textLength="129.0" lengthAdjust="spacingAndGlyphs">EKF estimation</text>
<path d="M135.1,277.6 H176.6" stroke="#000" stroke-width="4.3"/>
<text x="181.6" y="286.8" font-family="'Liberation Serif', serif" font-size="21.3" fill="#0c0c0c" textLength="130.8" lengthAdjust="spacingAndGlyphs">UKF estimation</text>
<rect x="654" y="34.5" width="312.2" height="114" fill="#fff"/>
<g fill="none">
<path d="M654.1,148.5 V34.8 H966.1 V148.5" stroke="#c2c2c2" stroke-width="1.3"/>
<path d="M653.6,148.5 H966.6" stroke="#5e5e5e" stroke-width="1"/>
<path d="M731.7,148.2 v-4.0 M731.7,35.2 v3.6" stroke="#6a6a6a" stroke-width="0.8"/>
<path d="M809.7,148.2 v-4.0 M809.7,35.2 v3.6" stroke="#6a6a6a" stroke-width="0.8"/>
<path d="M887.7,148.2 v-4.0 M887.7,35.2 v3.6" stroke="#6a6a6a" stroke-width="0.8"/>
<path d="M654.6,91.85 h3.4 M965.6,91.85 h-3.6" stroke="#6a6a6a" stroke-width="0.8"/>
</g>
<g clip-path="url(#ci)" fill="none" stroke-linejoin="round">
<path d="M654.0,34.7 L686.0,34.7 L688.0,36.2 L694.0,36.2 L700.0,36.6 L720.0,37.2 L760.0,38.4 L790.0,39.9 L815.0,41.2 L835.0,42.8 L877.0,42.8 L880.0,41.5 L897.0,40.4 L924.0,40.4 L928.0,42.5 L966.0,44.0" stroke="#ff0000" stroke-width="4"/>
<path d="M654.5,134.0 L654.9,133.1 L655.3,132.2 L655.8,131.3 L656.4,130.5 L657.1,129.8 L657.8,129.0 L658.4,128.3 L659.1,127.5 L659.8,126.8 L660.4,126.0 L661.0,125.2 L661.6,124.4 L662.3,123.6 L662.9,122.8 L663.5,122.1 L664.1,121.3 L664.7,120.5 L665.4,119.7 L666.0,118.9 L666.6,118.1 L667.2,117.3 L667.8,116.5 L668.4,115.7 L669.0,114.9 L669.6,114.1 L670.2,113.3 L670.8,112.5 L671.4,111.7 L672.0,110.9 L672.7,110.1 L673.3,109.4 L673.9,108.6 L674.6,107.8 L675.3,107.1 L676.0,106.4 L676.6,105.6 L677.3,104.9 L678.0,104.2 L678.7,103.5 L679.4,102.7 L680.1,102.0 L680.8,101.3 L681.5,100.6 L682.2,99.9 L682.9,99.1 L683.5,98.4 L684.2,97.6 L684.8,96.8 L685.5,96.1 L686.1,95.3 L686.7,94.5 L687.4,93.8 L688.0,93.0 L688.7,92.2 L689.3,91.5 L690.0,90.7 L690.7,90.0 L691.4,89.3 L692.1,88.5 L692.8,87.8 L693.5,87.2 L694.2,86.5 L695.0,85.8 L695.7,85.2 L696.5,84.5 L697.3,83.9 L698.1,83.2 L698.8,82.6 L699.6,82.0 L700.4,81.4 L701.2,80.8 L702.1,80.3 L702.9,79.7 L703.8,79.2 L704.7,78.7 L705.5,78.2 L706.4,77.7 L707.3,77.2 L708.1,76.7 L709.0,76.2 L709.8,75.7 L710.7,75.2 L711.6,74.7 L712.4,74.2 L713.3,73.7 L714.2,73.2 L715.0,72.7 L715.9,72.2 L716.8,71.7 L717.7,71.2 L718.5,70.7 L719.4,70.2 L720.3,69.8 L721.2,69.3 L722.1,68.8 L723.0,68.4 L723.9,67.9 L724.8,67.5 L725.7,67.1 L726.6,66.6 L727.5,66.2 L728.4,65.9 L729.4,65.5 L730.3,65.1 L731.2,64.8 L732.2,64.4 L733.1,64.1 L734.1,63.7 L735.0,63.4 L736.0,63.1 L736.9,62.8 L737.9,62.5 L738.8,62.3 L739.8,62.0 L740.8,61.8 L741.7,61.5 L742.7,61.3 L743.7,61.0 L744.7,60.8 L745.6,60.6 L746.6,60.3 L747.6,60.1 L748.6,59.9 L749.6,59.7 L750.5,59.5 L751.5,59.3 L752.5,59.1 L753.5,58.9 L754.5,58.7 L755.4,58.5 L756.4,58.3 L757.4,58.1 L758.4,57.9 L759.4,57.7 L760.3,57.4 L761.3,57.2 L762.3,57.0 L763.3,56.9 L764.3,56.7 L765.3,56.5 L766.2,56.3 L767.2,56.2 L768.2,56.0 L769.2,55.8 L770.2,55.7 L771.2,55.5 L772.2,55.4 L773.2,55.2 L774.2,55.1 L775.1,54.9 L776.1,54.8 L777.1,54.6 L778.1,54.5 L779.1,54.3 L780.1,54.2 L781.1,54.1 L782.1,53.9 L783.1,53.8 L784.1,53.6 L785.0,53.4 L786.0,53.2 L787.0,53.0 L788.0,52.8 L789.0,52.6 L789.9,52.4 L790.9,52.2 L791.9,52.0 L792.9,51.8 L793.9,51.6 L794.9,51.4 L795.8,51.2 L796.8,51.0 L797.8,50.8 L798.8,50.7 L799.8,50.6 L800.8,50.4 L801.8,50.3 L802.8,50.2 L803.8,50.0 L804.8,49.9 L805.7,49.8 L806.7,49.7 L807.7,49.6 L808.7,49.5 L809.7,49.4 L810.7,49.3 L811.7,49.2 L812.7,49.1 L813.7,49.0 L814.7,48.9 L815.7,48.8 L816.7,48.7 L817.7,48.6 L818.7,48.5 L819.7,48.5 L820.7,48.4 L821.7,48.3 L822.7,48.2 L823.7,48.2 L824.7,48.1 L825.7,48.0 L826.7,48.0 L827.7,47.9 L828.7,47.8 L829.7,47.8 L830.7,47.7 L831.7,47.7 L832.7,47.6 L833.7,47.6 L834.7,47.5 L835.7,47.5 L837.8,47.5 L839.8,47.4 L841.9,47.4 L844.0,47.4 L846.0,47.4 L848.1,47.4 L850.2,47.5 L852.2,47.4 L854.3,47.4 L856.3,47.4 L858.4,47.4 L860.5,47.4 L862.5,47.3 L864.6,47.5 L866.7,47.5 L868.7,47.4 L870.8,47.4 L873.3,46.6 L875.4,46.5 L877.5,46.7 L879.6,46.4 L881.7,46.4 L883.7,46.5 L885.8,46.5 L887.9,46.3 L890.0,46.2 L892.1,46.3 L894.0,45.9 L896.0,45.9 L898.0,45.9 L900.0,46.0 L902.0,45.8 L904.0,45.9 L906.0,45.8 L908.0,46.0 L910.0,46.0 L912.0,45.9 L914.0,46.0 L916.0,46.0 L918.0,46.0 L920.0,45.8 L922.0,45.8 L924.0,46.0 L926.0,45.8 L928.0,45.9 L930.0,46.0 L932.0,45.9 L934.0,45.9 L936.0,45.8 L938.0,45.8 L940.0,46.0 L942.0,46.0 L944.0,45.8 L946.0,46.0 L948.0,46.0 L950.0,45.8 L952.0,46.0 L954.0,45.8 L956.0,45.8 L958.0,46.0 L960.0,45.9 L962.0,45.9 L964.0,45.8 L966.0,45.9" stroke="#00ff00" stroke-width="4.4"/>
<path d="M654.8,135.0 L654.8,134.0 L654.9,133.0 L654.9,132.0 L654.9,131.0 L654.9,130.0 L655.0,129.0 L655.0,128.0 L655.0,127.0 L655.0,126.0 L655.1,125.0 L655.1,124.0 L655.1,123.0 L655.1,122.0 L655.2,121.0 L655.2,120.0 L655.2,119.0 L655.3,118.0 L655.3,116.9 L655.3,115.9 L655.3,114.9 L655.4,113.9 L655.4,112.9 L655.4,111.9 L655.4,110.9 L655.5,109.9 L655.5,108.9 L655.5,107.9 L655.6,106.9 L655.6,105.9 L655.7,104.9 L655.7,103.9 L655.8,102.9 L655.9,101.9 L655.9,100.9 L656.0,99.9 L656.1,98.9 L656.2,97.9 L656.3,96.9 L656.4,95.9 L656.5,94.9 L656.6,93.9 L656.7,92.9 L656.8,91.9 L656.9,90.9 L657.0,89.9 L657.1,88.9 L657.2,87.9 L657.3,86.9 L657.3,85.9 L657.4,84.9 L657.5,83.9 L657.6,82.9 L657.7,81.9 L657.7,80.9 L657.8,79.9 L658.0,78.9 L658.1,77.9 L658.2,76.9 L658.3,76.0 L658.5,75.0 L658.6,74.0 L658.8,73.0 L658.9,72.0 L659.1,71.0 L659.2,70.0 L659.3,69.0 L659.4,68.0 L659.5,67.0 L659.6,66.0 L659.7,65.0 L659.9,64.0 L660.0,63.0 L660.2,62.0 L660.4,61.1 L660.7,60.1 L661.1,59.1 L661.5,58.2 L662.0,57.3 L662.4,56.4 L662.9,55.6 L663.5,54.8 L664.1,54.0 L664.8,53.3 L665.5,52.5 L666.2,51.8 L666.9,51.1 L667.6,50.3 L668.3,49.6 L669.0,48.9 L669.8,48.1 L670.5,47.4 L671.2,46.7 L672.0,46.1 L672.8,45.6 L673.7,45.2 L674.5,44.7 L675.5,44.3 L676.4,43.9 L677.3,43.5 L678.3,43.2 L679.3,42.9 L680.2,42.5 L681.2,42.2 L682.2,41.9 L683.1,41.7 L684.1,41.4 L685.1,41.1 L686.0,40.9 L687.0,40.7 L688.0,40.5 L689.0,40.2 L690.0,40.1 L690.9,39.9 L691.9,39.7 L692.9,39.5 L693.9,39.4 L694.9,39.2 L695.9,39.1 L696.9,38.9 L697.9,38.8 L698.9,38.6 L699.9,38.5 L700.9,38.4 L701.9,38.3 L702.9,38.1 L703.9,38.0 L704.9,37.9 L705.8,37.8 L706.8,37.7 L707.8,37.5 L708.8,37.4 L709.8,37.3 L710.8,37.2 L711.8,37.1 L712.8,37.1 L713.8,37.1 L714.8,37.0 L715.8,37.0 L716.8,36.9 L717.8,36.9 L718.8,36.9 L719.8,36.8 L720.9,36.8 L721.9,36.8 L722.9,36.8 L723.9,36.7 L724.9,36.7 L725.9,36.7 L726.9,36.7 L727.9,36.7 L728.9,36.7 L729.9,36.7 L730.9,36.7 L731.9,36.7 L732.9,36.7 L733.9,36.7 L734.9,36.7 L735.9,36.7 L736.9,36.7 L737.9,36.7 L738.9,36.7 L739.9,36.8 L740.9,36.8 L741.9,36.8 L742.9,36.8 L743.9,36.8 L744.9,36.8 L745.9,36.8 L746.9,36.8 L747.9,36.8 L748.9,36.9 L749.9,36.9 L750.9,36.9 L751.9,36.9 L753.0,36.9 L754.0,37.0 L755.0,37.0 L756.0,37.0 L757.0,37.1 L758.0,37.1 L759.0,37.1 L760.0,37.2 L761.0,37.2 L762.0,37.3 L763.0,37.3 L764.0,37.3 L765.0,37.4 L766.0,37.4 L767.0,37.5 L768.0,37.5 L769.0,37.6 L770.0,37.6 L771.0,37.7 L772.0,37.7 L773.0,37.8 L775.1,37.8 L777.2,37.8 L779.3,38.0 L781.3,38.1 L783.4,38.0 L785.5,38.4 L787.6,38.2 L789.7,38.3 L791.8,38.7 L793.9,38.5 L796.0,38.5 L798.0,38.7 L800.1,38.7 L802.2,38.8 L804.3,39.0 L806.4,39.3 L808.4,39.0 L810.5,39.3 L812.6,39.2 L814.6,39.2 L816.7,39.5 L818.8,39.5 L820.8,39.3 L822.9,39.5 L824.9,39.7 L827.0,39.7 L829.1,39.7 L831.1,39.8 L833.2,39.9 L835.3,39.9 L837.4,40.1 L839.5,40.4 L841.5,40.5 L843.6,40.4 L845.7,40.5 L847.7,40.5 L849.7,40.0 L851.7,40.0 L853.7,39.8 L855.7,39.5 L857.9,39.6 L860.1,39.9 L862.3,40.1 L864.5,40.2 L866.7,40.8 L868.9,40.7 L871.1,41.0 L873.3,41.2 L875.4,41.2 L877.5,41.6 L879.5,41.8 L881.6,42.2 L883.7,42.0 L885.8,42.4 L888.0,42.6 L890.1,42.4 L892.3,42.8 L894.5,42.8 L896.6,42.9 L898.8,42.9 L900.9,42.8 L903.0,42.9 L905.1,43.0 L907.2,42.9 L909.2,42.8 L911.3,43.0 L913.4,43.0 L915.5,42.9 L917.6,42.8 L919.7,43.1 L921.8,42.9 L923.9,42.8 L926.0,43.1 L928.0,42.9 L930.1,42.9 L932.2,43.0 L934.3,43.0 L936.4,43.0 L938.8,43.4 L941.1,44.0 L943.5,43.6 L945.8,43.5 L948.1,43.1 L950.5,43.0 L952.9,43.8 L955.2,44.2 L957.6,43.5 L960.0,42.9 L962.0,43.2 L964.0,43.6 L966.0,44.2" stroke="#000" stroke-width="4.3"/>
</g>
<g font-family="'Liberation Sans', sans-serif" font-size="12" fill="#111">
<text x="654.4" y="162.2" text-anchor="middle">0</text>
<text x="732.4" y="162.2" text-anchor="middle">500</text>
<text x="810.4" y="162.2" text-anchor="middle">1000</text>
<text x="888.4" y="162.2" text-anchor="middle">1500</text>
<text x="966.4" y="162.2" text-anchor="middle">2000</text>
<text x="650.4" y="152.4" text-anchor="end">0</text>
<text x="650.4" y="96.1" text-anchor="end">0.5</text>
<text x="650.4" y="39.9" text-anchor="end">1</text>
</g>
</svg>
</body></html>
